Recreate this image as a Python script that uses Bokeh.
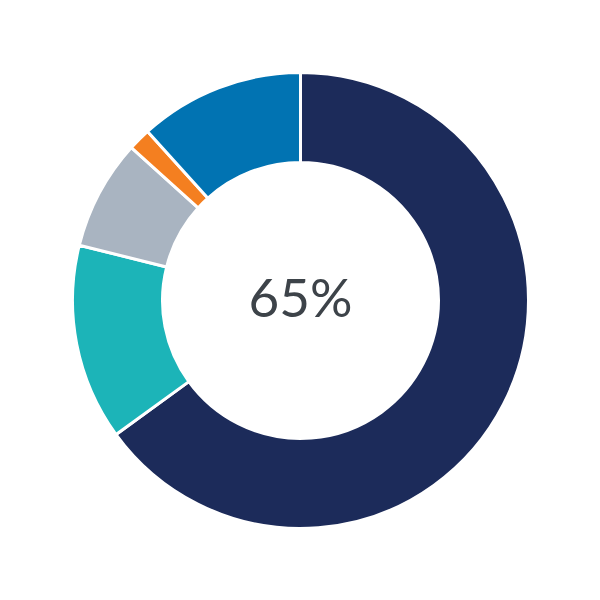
import math
from bokeh.plotting import figure
from bokeh.models import ColumnDataSource
from bokeh.core.properties import value
from bokeh.embed import file_html
from bokeh.resources import INLINE

categories = ["A", "B", "C", "D", "E"]
values = [65.0, 13.9, 7.8, 1.6, 11.7]
colors = ["#1c2b5a", "#1cb4b8", "#a9b4c1", "#f47f20", "#0173b2"]
center_label = "65%"

total = sum(values)
starts, ends = [], []
acc = 0.0
for v in values:
    starts.append(math.pi / 2 - 2 * math.pi * acc / total)
    acc += v
    ends.append(math.pi / 2 - 2 * math.pi * acc / total)

src = ColumnDataSource(dict(cat=categories, val=values, color=colors, start=starts, end=ends))

p = figure(width=584, height=584, x_range=(-300, 284), y_range=(-284, 300),
           output_backend="svg", toolbar_location=None, min_border=0)
p.annular_wedge(x=0, y=0, inner_radius=138, outer_radius=228,
                start_angle="start", end_angle="end", direction="clock",
                fill_color="color", line_color="white", line_width=3, source=src)
p.text(x=[0], y=[4], text=[center_label], text_align="center", text_baseline="middle",
       text_font=value("Lato"), text_font_size="53px", text_color="#3d4349")
p.axis.visible = False
p.grid.visible = False
p.outline_line_color = None
p.background_fill_color = "white"
p.border_fill_color = "white"

open("out.html", "w").write(file_html(p, INLINE))
